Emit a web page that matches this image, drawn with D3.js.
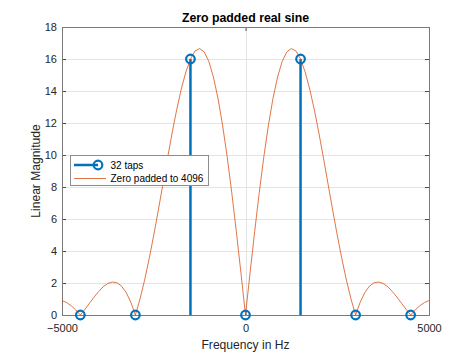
<!DOCTYPE html>
<html>
<head>
<meta charset="utf-8">
<script src="https://cdn.jsdelivr.net/npm/d3@7"></script>
<style>
  html, body { margin: 0; padding: 0; background: #ffffff; }
  svg { display: block; font-family: "Liberation Sans", Arial, Helvetica, sans-serif; }
</style>
</head>
<body>
<div id="chart"></div>
<script>
// ---------------- data ----------------
const stemFreqHz = [-4500, -3000, -1500, 0, 1500, 3000, 4500];
const stemMag    = [0, 0, 16, 0, 16, 0, 0];

const curveFreqHz = [
  -5000, -4875, -4750, -4625, -4500, -4375, -4250, -4125, -4000, -3875,
  -3750, -3625, -3500, -3375, -3250, -3125, -3000, -2875, -2750, -2625,
  -2500, -2375, -2250, -2125, -2000, -1875, -1750, -1625, -1500, -1375,
  -1250, -1125, -1000, -875, -750, -625, -500, -375, -250, -125,
  0,
  125, 250, 375, 500, 625, 750, 875, 1000, 1125, 1250,
  1375, 1500, 1625, 1750, 1875, 2000, 2125, 2250, 2375, 2500,
  2625, 2750, 2875, 3000, 3125, 3250, 3375, 3500, 3625, 3750,
  3875, 4000, 4125, 4250, 4375, 4500, 4625, 4750, 4875, 5000
];
const curveMag = [
  0.90, 0.78, 0.58, 0.32, 0, 0.36, 0.74, 1.12, 1.47, 1.77,
  1.97, 2.06, 2.01, 1.80, 1.40, 0.80, 0, 1.00, 2.17, 3.52,
  4.99, 6.56, 8.18, 9.80, 11.37, 12.83, 14.12, 15.19, 16.00, 16.50,
  16.65, 16.44, 15.85, 14.88, 13.55, 11.87, 9.90, 7.66, 5.22, 2.65,
  0,
  2.65, 5.22, 7.66, 9.90, 11.87, 13.55, 14.88, 15.85, 16.44, 16.65,
  16.50, 16.00, 15.19, 14.12, 12.83, 11.37, 9.80, 8.18, 6.56, 4.99,
  3.52, 2.17, 1.00, 0, 0.80, 1.40, 1.80, 2.01, 2.06, 1.97,
  1.77, 1.47, 1.12, 0.74, 0.36, 0, 0.32, 0.58, 0.78, 0.90
];

const xTickValues = [-5000, 0, 5000];
const yTickValues = [0, 2, 4, 6, 8, 10, 12, 14, 16, 18];

const titleText = "Zero padded real sine";
const xLabelText = "Frequency in Hz";
const yLabelText = "Linear Magnitude";
const legendLabels = ["32 taps", "Zero padded to 4096"];

// ---------------- layout ----------------
const W = 474, H = 355;
const plot = { left: 62, right: 429, top: 27, bottom: 315 };
const blue = "#0072BD", orange = "#D95319";
const axisColor = "#262626";

const x = d3.scaleLinear().domain([-5000, 5000]).range([plot.left, plot.right]);
const y = d3.scaleLinear().domain([0, 18]).range([plot.bottom, plot.top]);

const svg = d3.select("#chart").append("svg")
  .attr("width", W).attr("height", H);

svg.append("rect").attr("width", W).attr("height", H).attr("fill", "#ffffff");

svg.append("defs").append("clipPath").attr("id", "clip")
  .append("rect")
  .attr("x", plot.left).attr("y", plot.top)
  .attr("width", plot.right - plot.left).attr("height", plot.bottom - plot.top);

// grid
const grid = svg.append("g").attr("stroke", "#e4e4e4").attr("stroke-width", 1);
grid.selectAll("line.gy").data(yTickValues).join("line")
  .attr("x1", plot.left).attr("x2", plot.right)
  .attr("y1", d => Math.round(y(d)) + 0.5).attr("y2", d => Math.round(y(d)) + 0.5);
grid.selectAll("line.gx").data(xTickValues).join("line")
  .attr("y1", plot.top).attr("y2", plot.bottom)
  .attr("x1", d => Math.round(x(d)) + 0.5).attr("x2", d => Math.round(x(d)) + 0.5);

// axes
const tickLen = 4;
function styleAxis(g) {
  g.select(".domain").remove();
  g.selectAll(".tick line").attr("stroke", axisColor).attr("stroke-width", 0.8);
  g.selectAll(".tick text").attr("fill", axisColor).attr("font-size", 11);
}
svg.append("g").attr("transform", `translate(${plot.left},0)`)
  .call(d3.axisLeft(y).tickValues(yTickValues).tickSize(-tickLen).tickPadding(5).tickFormat(d3.format("d")))
  .call(styleAxis);
svg.append("g").attr("transform", `translate(${plot.right},0)`)
  .call(d3.axisRight(y).tickValues(yTickValues).tickSize(-tickLen).tickFormat(""))
  .call(styleAxis);
svg.append("g").attr("transform", `translate(0,${plot.bottom})`)
  .call(d3.axisBottom(x).tickValues(xTickValues).tickSize(-tickLen).tickPadding(9).tickFormat(d3.format("d")))
  .call(styleAxis);
svg.append("g").attr("transform", `translate(0,${plot.top})`)
  .call(d3.axisTop(x).tickValues(xTickValues).tickSize(-tickLen).tickFormat(""))
  .call(styleAxis);

// axes box
svg.append("rect")
  .attr("x", plot.left + 0.5).attr("y", plot.top + 0.5)
  .attr("width", plot.right - plot.left).attr("height", plot.bottom - plot.top)
  .attr("fill", "none").attr("stroke", "#7a7a7a").attr("stroke-width", 1);

// stems
const stems = stemFreqHz.map((f, i) => ({ f, v: stemMag[i] }));
svg.append("g").selectAll("line").data(stems.filter(d => d.v !== 0)).join("line")
  .attr("x1", d => x(d.f)).attr("x2", d => x(d.f))
  .attr("y1", y(0)).attr("y2", d => y(d.v))
  .attr("stroke", blue).attr("stroke-width", 2.5);

// zero padded curve
const pts = curveFreqHz.map((f, i) => [f, curveMag[i]]);
svg.append("path").datum(pts)
  .attr("clip-path", "url(#clip)")
  .attr("d", d3.line().x(d => x(d[0])).y(d => y(d[1])).curve(d3.curveLinear))
  .attr("fill", "none").attr("stroke", orange).attr("stroke-width", 1).attr("stroke-opacity", 0.8);

// stem markers
svg.append("g").selectAll("circle").data(stems).join("circle")
  .attr("cx", d => x(d.f)).attr("cy", d => y(d.v)).attr("r", 4.3)
  .attr("fill", "none").attr("stroke", blue).attr("stroke-width", 2.2);

// title & labels
svg.append("text").attr("x", (plot.left + plot.right) / 2).attr("y", 21.5)
  .attr("text-anchor", "middle").attr("font-weight", "bold").attr("font-size", 12.3)
  .attr("fill", "#000").text(titleText);
svg.append("text").attr("x", (plot.left + plot.right) / 2).attr("y", 348.5)
  .attr("text-anchor", "middle").attr("font-size", 12.1).attr("fill", axisColor).text(xLabelText);
svg.append("text")
  .attr("transform", `translate(39.5,${(plot.top + plot.bottom) / 2}) rotate(-90)`)
  .attr("text-anchor", "middle").attr("font-size", 12.1).attr("fill", axisColor).text(yLabelText);

// legend
const lg = svg.append("g");
lg.append("rect").attr("x", 70.5).attr("y", 155.5).attr("width", 138).attr("height", 30)
  .attr("fill", "#ffffff").attr("stroke", "#8c8c8c").attr("stroke-width", 1);
// entry 1
lg.append("line").attr("x1", 74).attr("x2", 98).attr("y1", 165).attr("y2", 165)
  .attr("stroke", blue).attr("stroke-width", 2.5);
lg.append("circle").attr("cx", 98).attr("cy", 165).attr("r", 4.3)
  .attr("fill", "none").attr("stroke", blue).attr("stroke-width", 2.2);
lg.append("text").attr("x", 110.5).attr("y", 168.5).attr("font-size", 10)
  .attr("fill", "#000").text(legendLabels[0]);
// entry 2
lg.append("line").attr("x1", 74).attr("x2", 106).attr("y1", 178.5).attr("y2", 178.5)
  .attr("stroke", orange).attr("stroke-width", 1).attr("stroke-opacity", 0.8);
lg.append("text").attr("x", 110.5).attr("y", 182).attr("font-size", 10)
  .attr("fill", "#000").text(legendLabels[1]);
</script>
</body>
</html>
